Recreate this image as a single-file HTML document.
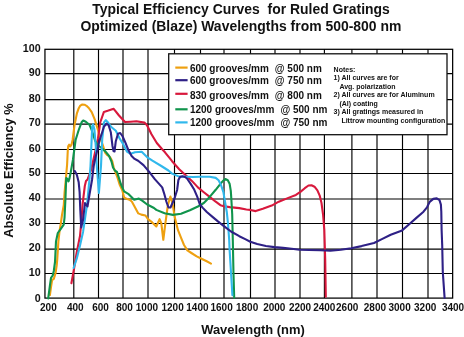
<!DOCTYPE html>
<html><head><meta charset="utf-8"><style>
html,body{margin:0;padding:0;background:#fff;width:464px;height:337px;overflow:hidden}
svg{display:block;will-change:transform}
text{font-family:"Liberation Sans",sans-serif;font-weight:bold;fill:#111}
</style></head><body>
<svg width="464" height="337" viewBox="0 0 464 337">
<rect width="464" height="337" fill="#fff"/>
<text x="92.2" y="14" font-size="14.2" textLength="297.6" lengthAdjust="spacingAndGlyphs">Typical Efficiency Curves &#160;for Ruled Gratings</text>
<text x="80.4" y="30.7" font-size="14.2" textLength="321" lengthAdjust="spacingAndGlyphs">Optimized (Blaze) Wavelengths from 500-800 nm</text>
<g stroke="#000" stroke-width="1.15">
<line x1="73.8" y1="49.3" x2="73.8" y2="298.1"/>
<line x1="98.5" y1="49.3" x2="98.5" y2="298.1"/>
<line x1="123.0" y1="49.3" x2="123.0" y2="298.1"/>
<line x1="148.0" y1="49.3" x2="148.0" y2="298.1"/>
<line x1="174.5" y1="49.3" x2="174.5" y2="298.1"/>
<line x1="200.5" y1="49.3" x2="200.5" y2="298.1"/>
<line x1="224.0" y1="49.3" x2="224.0" y2="298.1"/>
<line x1="250.5" y1="49.3" x2="250.5" y2="298.1"/>
<line x1="275.0" y1="49.3" x2="275.0" y2="298.1"/>
<line x1="300.0" y1="49.3" x2="300.0" y2="298.1"/>
<line x1="324.4" y1="49.3" x2="324.4" y2="298.1"/>
<line x1="351.9" y1="49.3" x2="351.9" y2="298.1"/>
<line x1="377.0" y1="49.3" x2="377.0" y2="298.1"/>
<line x1="402.5" y1="49.3" x2="402.5" y2="298.1"/>
<line x1="428.0" y1="49.3" x2="428.0" y2="298.1"/>
<line x1="44.95" y1="73.6" x2="452.6" y2="73.6"/>
<line x1="44.95" y1="99.6" x2="452.6" y2="99.6"/>
<line x1="44.95" y1="124.1" x2="452.6" y2="124.1"/>
<line x1="44.95" y1="149.5" x2="452.6" y2="149.5"/>
<line x1="44.95" y1="173.5" x2="452.6" y2="173.5"/>
<line x1="44.95" y1="199.0" x2="452.6" y2="199.0"/>
<line x1="44.95" y1="223.5" x2="452.6" y2="223.5"/>
<line x1="44.95" y1="249.1" x2="452.6" y2="249.1"/>
<line x1="44.95" y1="273.5" x2="452.6" y2="273.5"/>
</g>
<rect x="44.95" y="49.3" width="407.7" height="248.8" fill="none" stroke="#000" stroke-width="1.25"/>
<g font-size="10">
<text x="22.74" y="51.6" textLength="17.86" lengthAdjust="spacingAndGlyphs">100</text><text x="28.70" y="75.9" textLength="11.90" lengthAdjust="spacingAndGlyphs">90</text><text x="28.70" y="101.9" textLength="11.90" lengthAdjust="spacingAndGlyphs">80</text><text x="28.70" y="126.4" textLength="11.90" lengthAdjust="spacingAndGlyphs">70</text><text x="28.70" y="151.8" textLength="11.90" lengthAdjust="spacingAndGlyphs">60</text><text x="28.70" y="175.8" textLength="11.90" lengthAdjust="spacingAndGlyphs">50</text><text x="28.70" y="201.3" textLength="11.90" lengthAdjust="spacingAndGlyphs">40</text><text x="28.70" y="225.8" textLength="11.90" lengthAdjust="spacingAndGlyphs">30</text><text x="28.70" y="251.4" textLength="11.90" lengthAdjust="spacingAndGlyphs">20</text><text x="28.70" y="275.8" textLength="11.90" lengthAdjust="spacingAndGlyphs">10</text><text x="34.65" y="301.5" textLength="5.95" lengthAdjust="spacingAndGlyphs">0</text>
<text x="48.4" y="310.9" text-anchor="middle">200</text><text x="75.3" y="310.9" text-anchor="middle">400</text><text x="100.6" y="310.9" text-anchor="middle">600</text><text x="124.5" y="310.9" text-anchor="middle">800</text><text x="146.9" y="310.9" text-anchor="middle">1000</text><text x="172.6" y="310.9" text-anchor="middle">1200</text><text x="197.4" y="310.9" text-anchor="middle">1400</text><text x="221.6" y="310.9" text-anchor="middle">1600</text><text x="247.1" y="310.9" text-anchor="middle">1800</text><text x="274.3" y="310.9" text-anchor="middle">2000</text><text x="300" y="310.9" text-anchor="middle">2200</text><text x="324.3" y="310.9" text-anchor="middle">2400</text><text x="347.2" y="310.9" text-anchor="middle">2600</text><text x="374.9" y="310.9" text-anchor="middle">2800</text><text x="399.6" y="310.9" text-anchor="middle">3000</text><text x="425.2" y="310.9" text-anchor="middle">3200</text><text x="453" y="310.9" text-anchor="middle">3400</text>
</g>
<g fill="none" stroke-width="2.1" stroke-linejoin="round" stroke-linecap="round">
<polyline points="49.9,295.0 51.0,287.0 52.1,280.0 53.8,278.9 55.5,273.3 56.7,265.4 57.2,260.0 58.4,241.4 59.6,230.7 60.8,223.6 62.0,215.0 63.8,205.0 64.6,192.0 65.8,179.6 67.1,164.5 67.8,150.0 68.3,146.0 69.1,144.7 70.3,146.5 71.5,144.7 72.6,140.0 74.5,125.3 76.9,113.4 78.5,108.8 80.3,105.6 82.3,104.5 84.5,104.7 86.5,105.8 88.8,108.0 91.7,112.2 94.7,119.4 97.5,128.5 99.5,135.0 101.2,140.5 102.9,145.4 105.1,152.5 107.4,155.2 110.0,157.0 112.2,161.0 113.7,167.5 115.6,172.7 117.6,177.9 119.6,184.5 122.3,190.2 124.1,197.4 125.9,198.6 129.4,199.7 131.8,201.5 134.8,206.9 138.3,213.4 141.3,214.6 145.5,215.5 148.0,219.1 152.2,222.4 156.3,226.5 159.6,219.1 161.3,223.2 163.3,239.8 165.4,223.2 167.9,205.0 170.4,196.6 172.6,203.3 174.6,216.6 177.9,229.9 181.3,238.4 184.0,245.0 187.4,250.4 191.4,253.0 196.7,256.4 202.0,259.0 206.7,261.3 211.0,263.6" stroke="#eea010"/>
<polyline points="71.4,283.3 73.6,271.3 76.8,252.0 80.0,236.0 81.5,220.0 82.5,205.0 84.8,186.0 86.0,181.0 87.6,179.4 91.2,169.6 95.6,150.0 98.0,138.5 100.2,122.5 103.9,111.9 108.4,110.6 113.7,108.8 119.0,115.5 125.0,122.0 130.6,121.7 136.4,121.3 144.4,122.6 147.0,125.3 151.5,134.2 156.8,143.0 162.2,149.3 165.0,152.3 172.1,161.2 179.2,169.2 186.0,175.5 191.9,180.9 197.9,187.4 203.8,192.2 209.7,196.9 215.7,201.7 220.4,205.2 224.0,206.2 229.8,207.1 239.3,208.1 246.4,209.5 250.3,209.9 255.7,211.1 262.8,208.8 271.7,205.6 278.8,201.7 287.7,198.1 295.9,194.9 300.4,191.9 304.8,188.2 308.5,185.5 311.5,185.2 314.5,186.7 317.4,190.4 319.7,195.6 321.5,203.0 323.1,214.8 324.3,229.7 325.2,259.3 325.8,296.8" stroke="#d8183c"/>
<polyline points="48.2,298.4 49.9,285.7 51.0,277.8 52.7,275.5 53.8,271.0 55.0,262.0 56.0,241.4 57.8,233.0 60.8,228.9 63.7,224.7 64.5,218.0 65.5,197.8 66.2,178.0 67.1,178.7 68.5,181.4 69.4,178.7 70.7,172.5 72.9,160.0 75.6,140.0 78.7,130.0 81.6,122.3 83.2,120.5 85.8,121.7 89.4,124.7 91.3,129.0 93.0,134.0 95.1,140.8 97.5,144.5 99.5,146.5 101.6,148.0 105.6,151.6 109.1,156.0 111.5,161.5 113.0,167.5 115.0,170.7 117.0,172.0 118.9,177.9 120.9,184.3 124.1,191.4 128.2,193.8 131.2,196.8 134.2,199.7 138.9,198.6 142.5,200.9 147.2,204.5 154.0,208.0 156.3,209.9 164.6,213.3 172.9,214.9 181.0,213.8 189.9,210.3 197.9,206.5 203.8,203.0 209.7,196.9 215.7,189.8 220.4,183.9 223.0,180.8 225.4,179.0 227.8,180.2 229.6,183.7 230.8,190.9 231.4,200.0 232.2,214.2 232.8,240.0 233.5,273.7 234.2,297.8" stroke="#10944c"/>
<polyline points="73.6,268.0 76.8,258.4 80.0,245.6 83.1,231.7 87.0,205.0 89.4,180.0 90.5,166.0 92.2,126.5 93.0,124.4 94.4,129.4 95.8,146.5 96.8,166.0 98.9,193.0 101.0,166.0 102.2,139.4 104.0,122.3 105.8,120.1 107.9,122.3 111.3,127.0 115.8,130.8 119.5,138.2 123.2,144.1 126.9,151.5 130.6,153.8 135.0,152.3 141.7,151.8 147.0,157.1 152.4,160.7 161.3,166.0 168.4,170.5 172.1,173.6 179.2,176.6 186.0,176.8 193.1,177.0 200.2,176.7 209.7,176.7 215.7,177.9 218.6,180.3 221.0,185.0 223.4,192.2 224.6,199.3 225.6,205.0 226.8,212.0 228.0,223.7 229.2,240.0 229.6,250.0 231.0,272.3 232.4,295.3" stroke="#30b8ec"/>
<polyline points="74.8,171.0 76.9,175.1 78.7,182.3 79.6,192.0 80.3,210.0 81.2,227.5 83.0,220.0 85.0,203.0 87.5,206.5 89.4,195.0 92.0,180.0 93.7,166.0 95.6,157.0 97.4,150.0 99.4,140.8 101.7,133.7 104.0,126.5 106.5,123.7 108.6,125.1 110.8,132.2 112.5,146.0 113.5,151.0 114.5,151.5 115.8,141.2 118.0,133.7 120.2,133.0 122.4,136.0 125.4,142.6 128.4,150.1 131.6,156.0 134.6,158.9 138.1,160.7 143.5,165.1 148.8,171.4 155.0,179.4 162.2,187.4 164.3,194.0 166.5,202.0 168.5,207.5 170.5,207.5 172.5,203.0 174.6,198.3 177.1,190.0 178.4,180.0 180.0,177.0 182.5,176.3 185.0,177.0 187.0,178.5 190.7,183.9 194.3,189.8 197.3,196.9 199.7,204.0 202.6,207.6 206.8,212.0 213.1,217.4 217.9,221.4 223.9,226.1 231.0,231.5 239.3,236.2 245.2,239.1 250.3,241.7 257.2,244.0 265.9,246.0 274.5,247.1 283.1,247.9 291.7,248.8 299.5,249.7 309.0,250.0 320.0,250.3 330.4,250.7 340.8,249.7 351.2,248.2 361.6,246.1 374.0,243.0 382.4,238.9 390.7,234.7 402.1,230.4 409.2,224.2 416.4,217.9 423.5,211.7 427.0,207.3 429.7,201.9 433.3,198.9 436.8,198.4 439.5,200.1 440.9,204.6 441.3,211.7 441.6,229.5 442.2,245.0 442.8,272.0 444.6,297.9" stroke="#2e2086"/>
</g>
<rect x="168.7" y="53.8" width="278.3" height="80.9" fill="#fff" stroke="#111" stroke-width="1.3"/>
<g font-size="10">
<line x1="175.3" y1="67.6" x2="187.6" y2="67.6" stroke="#eea010" stroke-width="2.2"/>
<text x="189.9" y="71.6">600 grooves/mm</text>
<text x="274.8" y="71.6">@ 500 nm</text>
<line x1="175.3" y1="80.2" x2="187.6" y2="80.2" stroke="#2e2086" stroke-width="2.2"/>
<text x="189.9" y="84.0">600 grooves/mm</text>
<text x="274.8" y="84.0">@ 750 nm</text>
<line x1="175.3" y1="93.8" x2="187.6" y2="93.8" stroke="#d8183c" stroke-width="2.2"/>
<text x="189.9" y="98.7">830 grooves/mm</text>
<text x="274.8" y="98.7">@ 800 nm</text>
<line x1="175.3" y1="109.3" x2="187.6" y2="109.3" stroke="#10944c" stroke-width="2.2"/>
<text x="189.9" y="112.7">1200 grooves/mm</text>
<text x="280.4" y="112.7">@ 500 nm</text>
<line x1="175.3" y1="122.4" x2="187.6" y2="122.4" stroke="#30b8ec" stroke-width="2.2"/>
<text x="189.9" y="126.2">1200 grooves/mm</text>
<text x="280.4" y="126.2">@ 750 nm</text>
</g>
<g font-size="7">
<text x="333.6" y="71.9">Notes:</text>
<text x="333.6" y="80.4">1) All curves are for</text>
<text x="339.4" y="88.7">Avg. polarization</text>
<text x="333.6" y="97.0">2) All curves are for Aluminum</text>
<text x="339.4" y="105.5">(Al) coating</text>
<text x="333.6" y="114.0">3) All gratings measured in</text>
<text x="341.4" y="122.6">Littrow mounting configuration</text>
</g>
<text x="201.2" y="333.5" font-size="12.6" textLength="103.6" lengthAdjust="spacingAndGlyphs">Wavelength (nm)</text>
<text transform="translate(12.9,237.8) rotate(-90)" x="0" y="0" font-size="13.2" textLength="134.6" lengthAdjust="spacingAndGlyphs">Absolute Efficiency %</text>
</svg>
</body></html>
